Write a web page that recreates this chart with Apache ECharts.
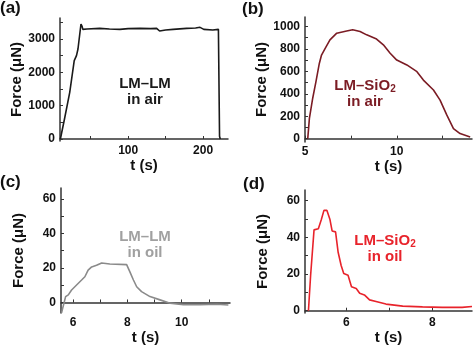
<!DOCTYPE html>
<html>
<head>
<meta charset="utf-8">
<script src="https://cdn.jsdelivr.net/npm/echarts@6/dist/echarts.min.js"></script>
<style>
  html, body { margin: 0; padding: 0; background: #fff; }
  #chart { width: 474px; height: 346px; }
</style>
</head>
<body>
<div id="chart"></div>
<script>
// panel (a) LM-LM in air
const timeA  = [9.5, 15, 22, 28, 31, 33, 37, 38.5, 39.5, 45, 62, 75, 89, 100, 116, 130, 138, 142, 150, 160, 178, 190, 196, 201, 213, 220.5, 222, 223];
const forceA = [0, 600, 1400, 2350, 2500, 2700, 3450, 3380, 3290, 3300, 3320, 3300, 3290, 3310, 3320, 3310, 3320, 3240, 3270, 3290, 3320, 3330, 3350, 3290, 3270, 3290, 80, 0];
// panel (b) LM-SiO2 in air
const timeB  = [5.15, 5.24, 5.42, 5.6, 5.78, 5.9, 6.1, 6.36, 6.73, 7.27, 7.6, 8.0, 8.36, 8.9, 9.27, 9.64, 10.0, 10.55, 11.1, 11.45, 12.0, 12.36, 12.73, 13.09, 13.45, 14.0];
const forceB = [0, 180, 360, 510, 670, 745, 805, 880, 940, 960, 970, 955, 925, 887, 836, 761, 700, 657, 597, 522, 433, 343, 209, 90, 45, 15];
// panel (c) LM-LM in oil
const timeC  = [5.57, 5.72, 5.82, 5.94, 6.06, 6.18, 6.31, 6.43, 6.55, 6.68, 6.86, 7.05, 7.35, 7.97, 8.09, 8.22, 8.34, 8.52, 8.83, 9.2, 9.57, 10.06, 10.68, 11.3, 11.72];
const forceC = [-6, 3.4, 4.4, 7.2, 9.1, 11, 13, 14.9, 18.7, 20.6, 21.5, 22.9, 22.3, 21.9, 17.7, 13, 9.1, 6.3, 3.4, 1.5, -0.4, -1.3, -1.3, -1.0, -1.5];
// panel (d) LM-SiO2 in oil
const timeD  = [5.12, 5.17, 5.25, 5.35, 5.42, 5.48, 5.55, 5.62, 5.67, 5.75, 5.81, 5.88, 5.94, 6.04, 6.12, 6.23, 6.31, 6.42, 6.54, 6.69, 6.92, 7.31, 7.77, 8.23, 8.69, 8.92];
const forceD = [0, 19, 44, 44.6, 49.6, 54.6, 54.6, 49.6, 43.4, 42.9, 31.8, 24.6, 20.2, 19.3, 13, 12.1, 9.5, 8.6, 5.9, 5, 3.6, 2.5, 2.1, 1.8, 1.8, 2.3];

const colors = ['#1a1a1a', '#7b1c24', '#8a8a8a', '#e8232b'];
const font = 'Liberation Sans, Arial, sans-serif';

const zip = (xs, ys) => xs.map((x, i) => [x, ys[i]]);

function xAxis(idx, min, max, labels, ticks) {
    return {
        gridIndex: idx, type: 'value', min: min, max: max,
        name: 't (s)', nameLocation: 'middle', nameGap: 17,
        nameTextStyle: { fontFamily: font, fontWeight: 'bold', fontSize: 15, color: '#111' },
        axisLine: { lineStyle: { color: '#333', width: 1.5 } },
        axisTick: { inside: true, length: 3, customValues: ticks, lineStyle: { color: '#333' } },
        axisLabel: { customValues: labels, margin: 4, formatter: v => String(v), fontFamily: font, fontWeight: 'bold', fontSize: 12, color: '#111' },
        splitLine: { show: false }
    };
}
function yAxis(idx, min, max, labels, ticks) {
    return {
        gridIndex: idx, type: 'value', min: min, max: max,
        name: 'Force (μN)', nameLocation: 'middle', nameGap: 35,
        nameTextStyle: { fontFamily: font, fontWeight: 'bold', fontSize: 15, color: '#111' },
        axisLine: { show: true, lineStyle: { color: '#333', width: 1.5 } },
        axisTick: { show: true, inside: true, length: 3, customValues: ticks, lineStyle: { color: '#333' } },
        axisLabel: { customValues: labels, margin: 5, formatter: v => String(v), fontFamily: font, fontWeight: 'bold', fontSize: 12, color: '#111' },
        splitLine: { show: false }
    };
}
function series(idx, xs, ys) {
    return {
        type: 'line', xAxisIndex: idx, yAxisIndex: idx, data: zip(xs, ys),
        showSymbol: false, lineStyle: { color: colors[idx], width: 1.6 }, silent: true
    };
}
function label(x, y, text) {
    return { type: 'text', left: x, top: y, style: { text: text, fontFamily: font, fontWeight: 'bold', fontSize: 17, fill: '#111' } };
}
function note(cx, y, lines, color) {
    return {
        type: 'text', x: cx, y: y,
        style: {
            text: lines, align: 'center', fill: color, fontFamily: font, fontWeight: 'bold', fontSize: 15, lineHeight: 16,
            rich: { sub: { fontSize: 10, fontFamily: font, fontWeight: 'bold', fill: color, verticalAlign: 'bottom', padding: [8, 0, 0, 0] } }
        }
    };
}

const chart = echarts.init(document.getElementById('chart'));
chart.setOption({
    animation: false,
    grid: [
        { left: 60, right: 246, top: 18, bottom: 205 },
        { left: 305, right: 2, top: 17, bottom: 204 },
        { left: 61, right: 244, top: 188, bottom: 31 },
        { left: 305, right: 2, top: 190, bottom: 31 }
    ],
    xAxis: [
        xAxis(0, 9, 233.3, [100, 200], [50, 100, 150, 200]),
        xAxis(1, 5, 14.1, [5, 10], [5, 7.5, 10, 12.5]),
        xAxis(2, 5.55, 11.78, [6, 8, 10], [6, 7, 8, 9, 10, 11]),
        xAxis(3, 5.04, 8.92, [6, 8], [6, 7, 8])
    ],
    yAxis: [
        yAxis(0, -60, 3630, [0, 1000, 2000, 3000], [0, 500, 1000, 1500, 2000, 2500, 3000, 3500]),
        yAxis(1, -30, 1084, [0, 200, 400, 600, 800, 1000], [0, 100, 200, 300, 400, 500, 600, 700, 800, 900, 1000]),
        yAxis(2, -6.1, 66.3, [0, 20, 40, 60], [0, 10, 20, 30, 40, 50, 60]),
        yAxis(3, -1.25, 65.7, [0, 20, 40, 60], [0, 10, 20, 30, 40, 50, 60])
    ],
    series: [
        series(0, timeA, forceA),
        series(1, timeB, forceB),
        series(2, timeC, forceC),
        series(3, timeD, forceD)
    ],
    graphic: [
        label(0, 0, '(a)'),
        label(242, 1, '(b)'),
        label(0, 174, '(c)'),
        label(243, 176, '(d)'),
        note(145, 76, 'LM–LM\nin air', '#1a1a1a'),
        note(365, 78, 'LM–SiO{sub|2}\nin air', '#7b1c24'),
        note(145, 229, 'LM–LM\nin oil', '#a0a0a0'),
        note(385, 233, 'LM–SiO{sub|2}\nin oil', '#e8232b')
    ]
});
</script>
</body>
</html>
